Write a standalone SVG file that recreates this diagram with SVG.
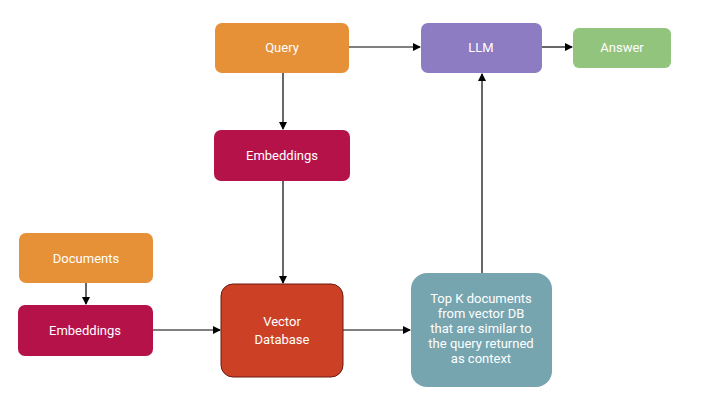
<svg xmlns="http://www.w3.org/2000/svg" width="703" height="415" viewBox="0 0 703 415">
<defs>
<marker id="ah" markerWidth="8" markerHeight="8" refX="7" refY="4" orient="auto" markerUnits="userSpaceOnUse"><path d="M0,0 L8,4 L0,8 z" fill="#000"/></marker>
<style>
text{font-family:Roboto,"Liberation Sans",sans-serif;font-size:13px;fill:#fff;text-anchor:middle}
.c{stroke:#000;stroke-width:1.2;fill:none;marker-end:url(#ah)}
</style>
</defs>
<rect width="703" height="415" fill="#fff"/>
<g id="connectors">
<line class="c" x1="349" y1="47" x2="420" y2="47"/>
<line class="c" x1="542" y1="47" x2="572" y2="47"/>
<line class="c" x1="283" y1="73" x2="283" y2="129"/>
<line class="c" x1="283" y1="181" x2="283" y2="283"/>
<line class="c" x1="86" y1="283" x2="86" y2="304"/>
<line class="c" x1="153" y1="330" x2="220" y2="330"/>
<line class="c" x1="343" y1="330" x2="410" y2="330"/>
<line class="c" x1="482" y1="273" x2="482" y2="74"/>
</g>
<g id="query"><rect x="215" y="23" width="134" height="50" rx="7" fill="#E69138"/><text x="282" y="52">Query</text></g>
<g id="llm"><rect x="421" y="23" width="121" height="50" rx="7" fill="#8E7CC3"/><text x="481" y="52">LLM</text></g>
<g id="answer"><rect x="573" y="28" width="98" height="40" rx="6" fill="#93C47D"/><text x="622" y="52">Answer</text></g>
<g id="emb1"><rect x="214" y="130" width="136" height="51" rx="7" fill="#B5124A"/><text x="282" y="160">Embeddings</text></g>
<g id="docs"><rect x="19" y="233" width="134" height="50" rx="7" fill="#E69138"/><text x="86" y="263">Documents</text></g>
<g id="emb2"><rect x="18" y="305" width="135" height="51" rx="7" fill="#B5124A"/><text x="85" y="335">Embeddings</text></g>
<g id="vdb"><rect x="221" y="284" width="122" height="93" rx="12" fill="#CC4125" stroke="#6b1a10" stroke-width="1"/><text x="282" y="326">Vector</text><text x="282" y="344">Database</text></g>
<g id="topk"><rect x="411" y="273" width="141" height="114" rx="16" fill="#76A5AF"/>
<text x="481" y="303" font-size="12">Top K documents</text>
<text x="481" y="318" font-size="12">from vector DB</text>
<text x="481" y="333" font-size="12">that are similar to</text>
<text x="481" y="348" font-size="12">the query returned</text>
<text x="481" y="363" font-size="12">as context</text></g>
</svg>
